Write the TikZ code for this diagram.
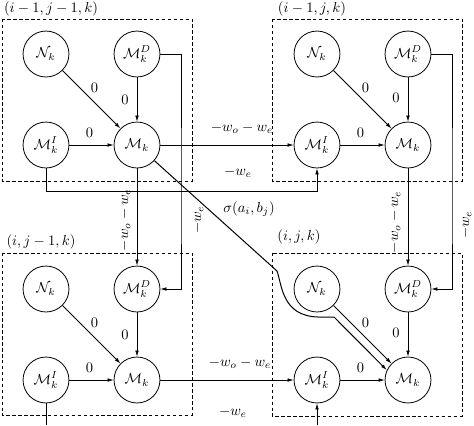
\documentclass[tikz,border=0pt]{standalone}
\usetikzlibrary{arrows.meta}
\begin{document}
\begin{tikzpicture}[x=0.69pt,y=-0.69pt,
  font=\fontsize{10}{12}\selectfont,
  st/.style={circle,draw,line width=0.55pt,minimum size=31.7pt,inner sep=0pt},
  grp/.style={draw,line width=0.62pt,dash pattern=on 2.4pt off 1.7pt},
  conn/.style={draw,line width=0.5pt,-{Latex[length=4.2pt,width=2.5pt]}},
  thk/.style={line width=0.7pt},
  lab/.style={inner sep=0.7pt}]
\useasboundingbox (0,0) rectangle (474,425);

% dashed groups
\draw[grp] (2,19) rectangle (192,181);
\draw[grp] (272,19) rectangle (462,181);
\draw[grp] (2,253) rectangle (192,415);
\draw[grp] (272,253) rectangle (462,416);

\node[lab] (gtl) at (51,9) {$(i-1,j-1,k)$};
\node[lab] (gtr) at (312,9) {$(i-1,j,k)$};
\node[lab] (gbl) at (41,242) {$(i,j-1,k)$};
\node[lab] (gbr) at (299,237) {$(i,j,k)$};

% states
\node[st] (tlN) at (46,54) {$\mathcal{N}_k$};
\node[st] (tlD) at (137,54) {$\mathcal{M}_k^D$};
\node[st] (tlI) at (46,145) {$\mathcal{M}_k^I$};
\node[st] (tlM) at (137,145) {$\mathcal{M}_k$};

\node[st] (trN) at (317,54) {$\mathcal{N}_k$};
\node[st] (trD) at (408,54) {$\mathcal{M}_k^D$};
\node[st] (trI) at (317,145) {$\mathcal{M}_k^I$};
\node[st] (trM) at (408,145) {$\mathcal{M}_k$};

\node[st] (blN) at (46,289) {$\mathcal{N}_k$};
\node[st] (blD) at (137,289) {$\mathcal{M}_k^D$};
\node[st] (blI) at (46,380) {$\mathcal{M}_k^I$};
\node[st] (blM) at (137,380) {$\mathcal{M}_k$};

\node[st] (brN) at (317,289) {$\mathcal{N}_k$};
\node[st] (brD) at (408,289) {$\mathcal{M}_k^D$};
\node[st] (brI) at (317,380) {$\mathcal{M}_k^I$};
\node[st] (brM) at (408,380) {$\mathcal{M}_k$};

% in-group transitions
\draw[conn,thk] (tlN) -- (tlM) node[lab,midway,shift={(3,-12)}] {$0$};
\draw[conn] (tlD) -- (tlM) node[lab,midway,shift={(-12,0)}] {$0$};
\draw[conn] (tlI) -- (tlM) node[lab,midway,shift={(-2,-12)}] {$0$};

\draw[conn] (trN) -- (trM) node[lab,midway,shift={(3,-12)}] {$0$};
\draw[conn] (trD) -- (trM) node[lab,midway,shift={(-12,-2)}] {$0$};
\draw[conn] (trI) -- (trM) node[lab,midway,shift={(-2,-12)}] {$0$};

\draw[conn] (blN) -- (blM) node[lab,midway,shift={(3,-12)}] {$0$};
\draw[conn] (blD) -- (blM) node[lab,midway,shift={(-12,0)}] {$0$};
\draw[conn] (blI) -- (blM) node[lab,midway,shift={(-2,-12)}] {$0$};

\draw[conn] (brN) -- (brM) node[lab,midway,shift={(3,-12)}] {$0$};
\draw[conn] (brD) -- (brM) node[lab,midway,shift={(-12,-2)}] {$0$};
\draw[conn] (brI) -- (brM) node[lab,midway,shift={(-2,-12)}] {$0$};

% between groups
\coordinate (a1) at (317,191);
\coordinate (a2) at (181,200);
\coordinate (a3) at (452,200);
\coordinate (s1) at (277,271);
\coordinate (s2) at (334,317);
\coordinate (b1) at (46,425);
\coordinate (b2) at (317,425);

\draw[conn] (tlM) -- (trI);
\draw[conn] (tlI) |- (a1) -- (trI);
\draw[conn] (tlD.east) -| (a2) |- (blD.east);
\draw[conn] (tlM) -- (blD);
\draw[conn,thk] (tlM) -- (s1) .. controls (282,285) and (282,316) .. (318,317) -- (s2) -- (brM.155);
\draw[conn] (trD.east) -| (a3) |- (brD.east);
\draw[conn] (trM) -- (brD);
\draw[conn] (blM) -- (brI);
\draw[line width=0.5pt] (blI) -- (b1);
\draw[conn] (b2) -- (brI);

% labels between groups
\node[lab] (l1) at (242,128) {$-w_o-w_e$};
\node[lab] (l2) at (238,172) {$-w_e$};
\node[lab,rotate=90] (l3) at (125,220) {$-w_o-w_e$};
\node[lab,rotate=90] (l4) at (198,220) {$-w_e$};
\node[lab] (l5) at (249,209) {$\sigma(a_i,b_j)$};
\node[lab,rotate=90] (l6) at (395,222) {$-w_o-w_e$};
\node[lab,rotate=90] (l7) at (466,225) {$-w_e$};
\node[lab] (l8) at (240,363) {$-w_o-w_e$};
\node[lab] (l9) at (233,412) {$-w_e$};
\end{tikzpicture}
\end{document}
